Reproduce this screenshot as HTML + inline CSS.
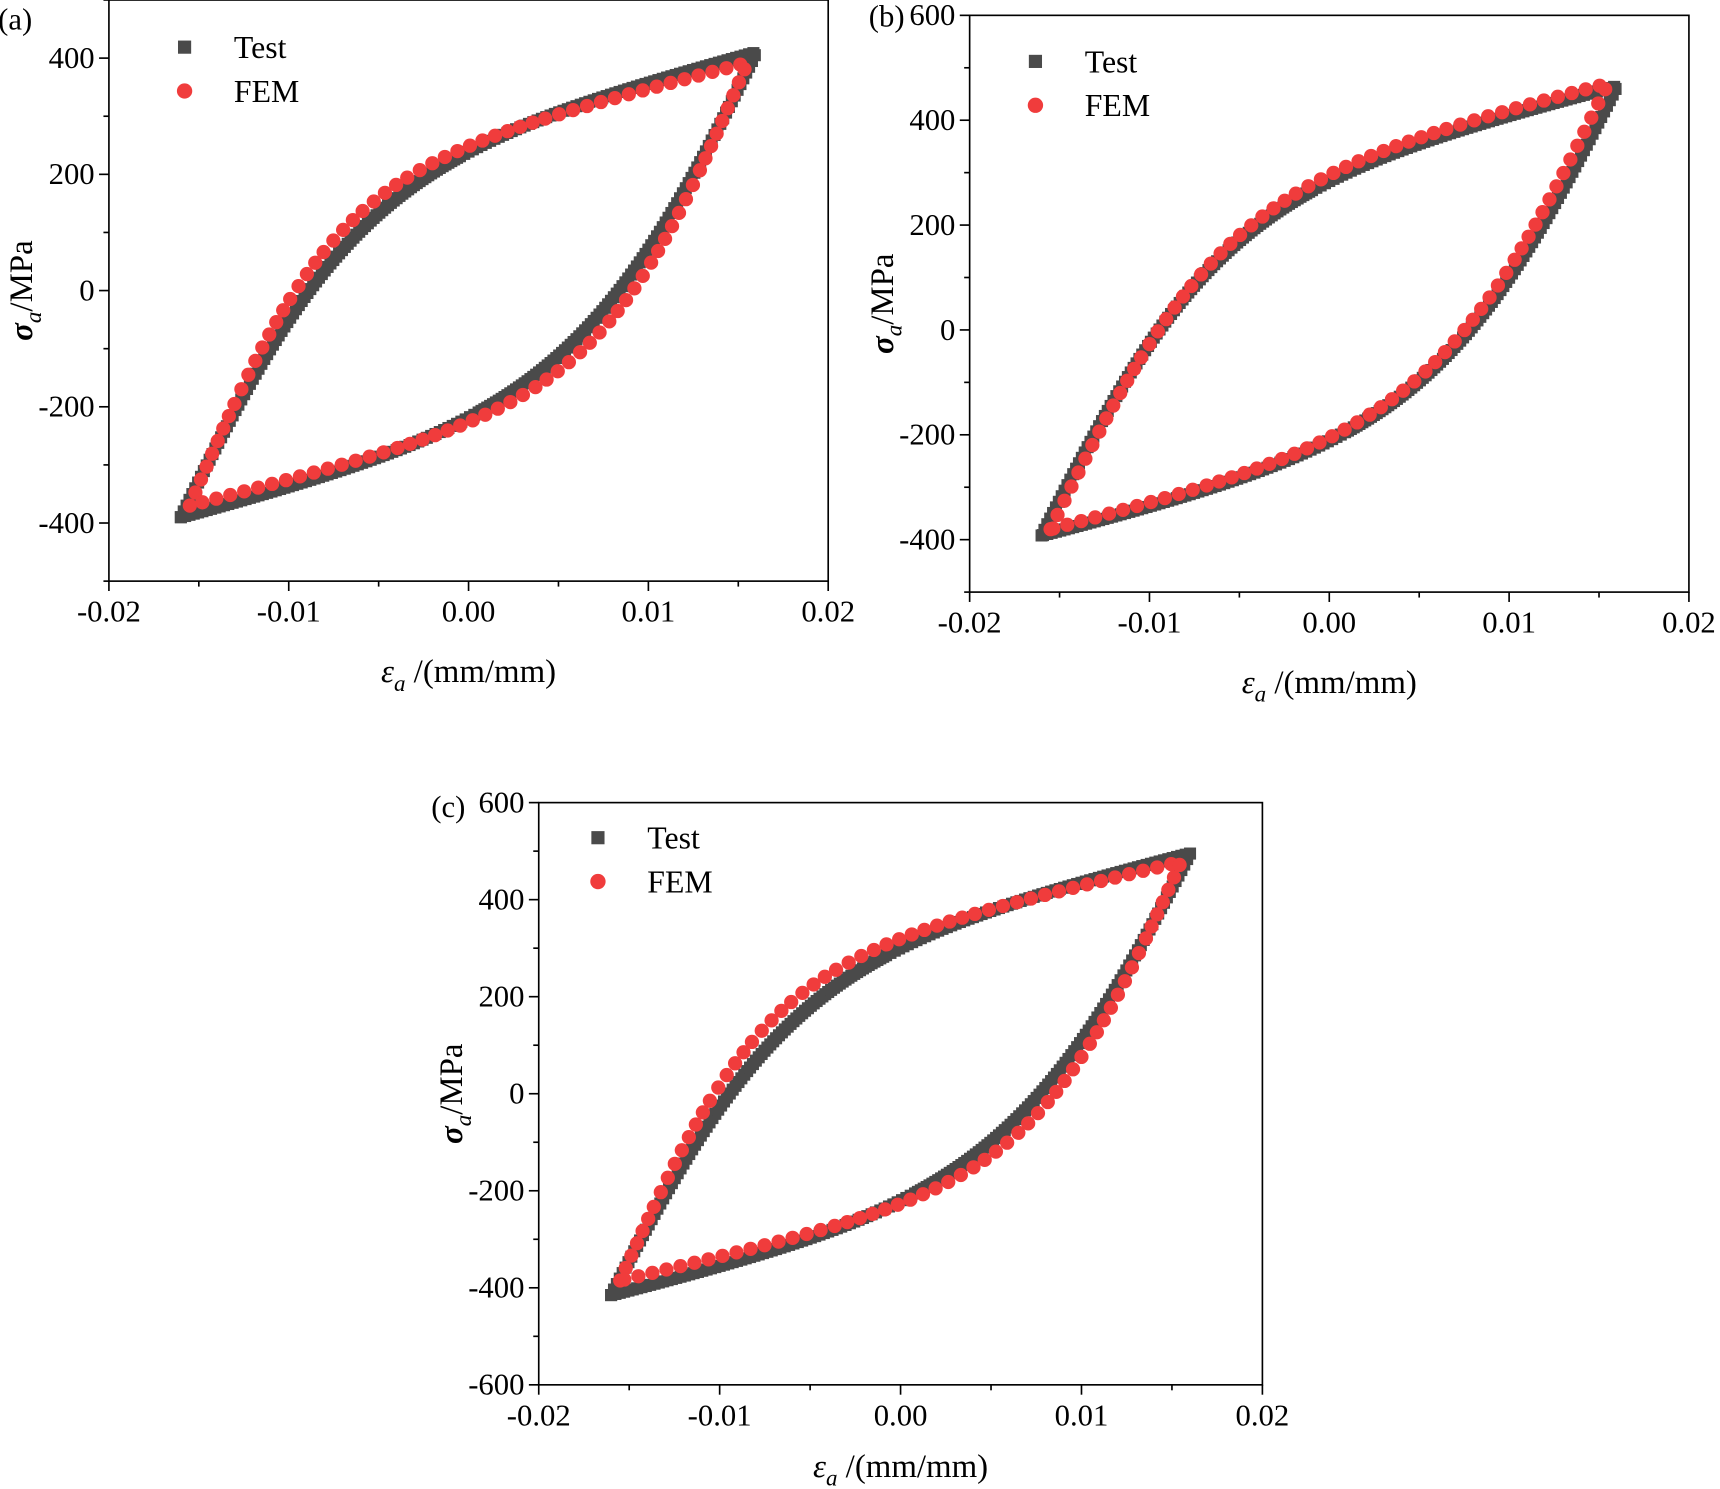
<!DOCTYPE html>
<html><head><meta charset="utf-8">
<style>
html,body{margin:0;padding:0;background:#fff;}
svg{display:block;}
text{font-family:"Liberation Serif",serif;fill:#000;}
</style></head>
<body>
<svg id="s" width="1720" height="1489" viewBox="0 0 1568 1358" xmlns="http://www.w3.org/2000/svg"></svg>
<script>
const S=document.getElementById('s');let out='';
function f(d,a,b,c){return a*Math.tanh(d/b)+c*d;}
function panel(p){
  const X=e=>p.x0+(e+0.02)/0.04*(p.x1-p.x0);
  const Y=v=>p.yb-(v-p.vb)/(p.vt-p.vb)*(p.yb-p.yt);
  out+=`<rect x="${p.x0}" y="${p.yt}" width="${p.x1-p.x0}" height="${p.yb-p.yt}" fill="none" stroke="#000" stroke-width="1.5"/>`;
  for(let i=0;i<=8;i++){const x=p.x0+i*(p.x1-p.x0)/8;const L=i%2?5:9;
    out+=`<line x1="${x}" y1="${p.yb}" x2="${x}" y2="${p.yb+L}" stroke="#000" stroke-width="1.5"/>`;}
  ['-0.02','-0.01','0.00','0.01','0.02'].forEach((t,i)=>{const x=p.x0+i*(p.x1-p.x0)/4;
    out+=`<text x="${x}" y="${p.yb+37}" font-size="28" text-anchor="middle">${t}</text>`;});
  for(let v=p.vb;v<=p.vt+1;v+=100){const y=Y(v);const maj=(v%200===0);
    out+=`<line x1="${p.x0}" y1="${y}" x2="${p.x0-(maj?9:5)}" y2="${y}" stroke="#000" stroke-width="1.5"/>`;
    if(maj&&p.labels.includes(v))out+=`<text x="${p.x0-13}" y="${y+9}" font-size="28" text-anchor="end">${v}</text>`;}
  const cx=(p.x0+p.x1)/2;
  out+=`<text x="${cx}" y="${p.yb+p.xl}" font-size="30" text-anchor="middle"><tspan font-style="italic">ε</tspan><tspan font-style="italic" font-size="21" dy="8">a</tspan><tspan dy="-8"> /(mm/mm)</tspan></text>`;
  const cy=(p.yt+p.yb)/2;const lx=p.x0-70;
  out+=`<text transform="translate(${lx},${cy}) rotate(-90)" font-size="30" text-anchor="middle"><tspan font-style="italic" font-weight="bold">σ</tspan><tspan font-style="italic" font-size="21" dy="8">a</tspan><tspan dy="-8">/MPa</tspan></text>`;
  out+=`<text x="${p.lab[0]}" y="${p.lab[1]}" font-size="28">${p.name}</text>`;
  function loop(d){const pts=[];const N=400;const span=d.emax-d.emin;
    const tot=f(span,d.a,d.b,d.c);const k=(d.smax-d.smin)/tot;
    for(let i=0;i<=N;i++){const e=d.emin+span*i/N;pts.push([X(e),Y(d.smin+k*f(e-d.emin,d.a,d.b,d.c))]);}
    for(let i=0;i<=N;i++){const e=d.emax-span*i/N;pts.push([X(e),Y(d.smax-k*f(d.emax-e,d.a,d.b,d.c))]);}
    return pts;}
  function resample(pts,sp){const r=[pts[0]];let acc=0;for(let i=1;i<pts.length;i++){const dx=pts[i][0]-pts[i-1][0],dy=pts[i][1]-pts[i-1][1];acc+=Math.hypot(dx,dy);if(acc>=sp){r.push(pts[i]);acc=0;}}return r;}
  const T=resample(loop(p.test),3);
  T.forEach(q=>out+=`<rect x="${q[0]-5.5}" y="${q[1]-5.5}" width="11" height="11" fill="#4a4a4a"/>`);
  const F=resample(loop(p.fem),12);
  F.forEach(q=>out+=`<circle cx="${q[0]}" cy="${q[1]}" r="6.5" fill="#f03c3c"/>`);
  const [lx2,ly]=p.leg;
  out+=`<rect x="${lx2-6}" y="${ly-6}" width="12" height="12" fill="#4a4a4a"/><text x="${lx2+45}" y="${ly+10}" font-size="29">Test</text>`;
  out+=`<circle cx="${lx2}" cy="${ly+40}" r="7" fill="#f03c3c"/><text x="${lx2+45}" y="${ly+50}" font-size="29">FEM</text>`;
}
panel({x0:99,x1:755,yt:0,yb:530,vt:500,vb:-500,xl:92,labels:[400,200,0,-200,-400],lab:[-2,27],name:"(a)",leg:[168,43],
 test:{emin:-0.016,emax:0.016,smin:-390,smax:410,a:542,b:0.01,c:8150},
 fem:{emin:-0.0155,emax:0.0155,smin:-370,smax:392,a:520,b:0.008,c:8000}});
panel({x0:884,x1:1540,yt:14,yb:540,vt:600,vb:-500,xl:92,labels:[600,400,200,0,-200,-400],lab:[792,24],name:"(b)",leg:[944,56],
 test:{emin:-0.016,emax:0.016,smin:-392,smax:465,a:580,b:0.01,c:8500},
 fem:{emin:-0.0155,emax:0.0155,smin:-380,smax:470,a:580,b:0.0095,c:8500}});
panel({x0:491,x1:1151,yt:732,yb:1263,vt:600,vb:-600,xl:84,labels:[600,400,200,0,-200,-400,-600],lab:[393,745],name:"(c)",leg:[545,764],
 test:{emin:-0.016,emax:0.016,smin:-415,smax:495,a:600,b:0.01,c:9000},
 fem:{emin:-0.0155,emax:0.0155,smin:-385,smax:478,a:580,b:0.008,c:8500}});
S.innerHTML=out;
</script>
</body></html>
